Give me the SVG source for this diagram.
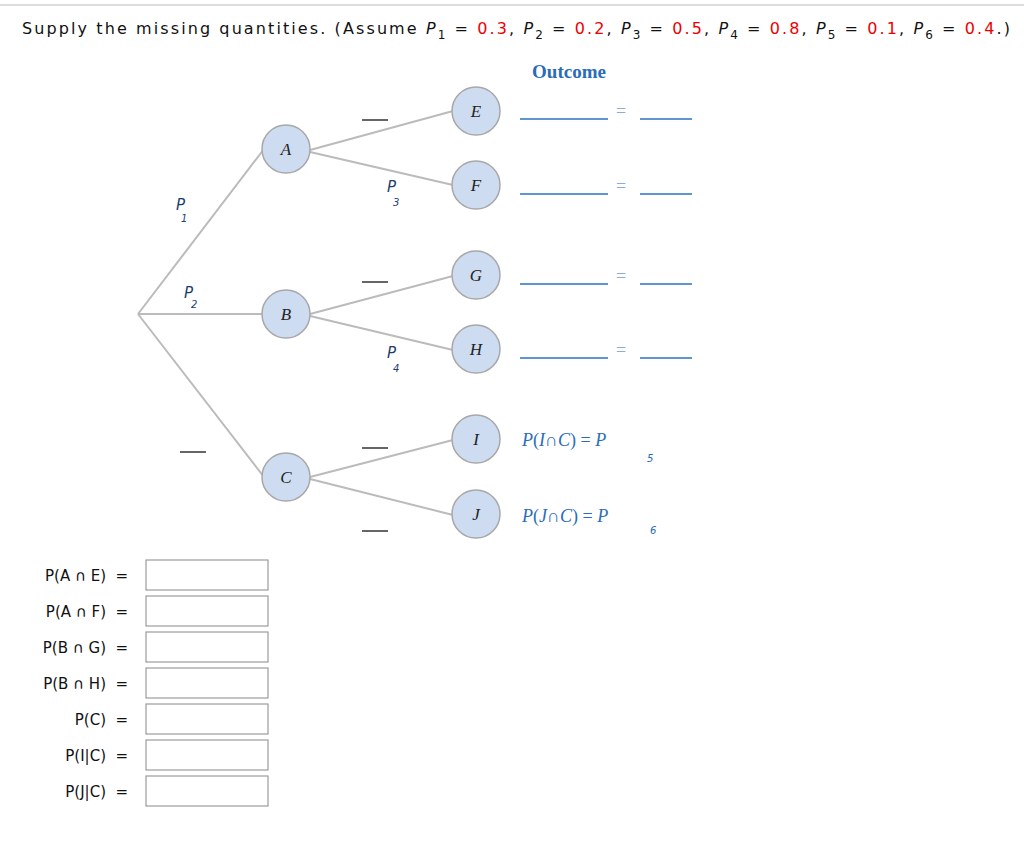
<svg xmlns="http://www.w3.org/2000/svg" width="1024" height="851" viewBox="0 0 1024 851">
<style>
.n{fill:#cddcf0;stroke:#a8a8a8;stroke-width:1.5}
.nl{font-family:"Liberation Serif",serif;font-style:italic;font-size:17px;text-anchor:middle;fill:#222}
.e{stroke:#bbbbbb;stroke-width:2;fill:none}
.p{font-family:"DejaVu Sans",sans-serif;font-style:italic;font-size:15px;fill:#1d3d6e}
.ps{font-family:"DejaVu Sans",sans-serif;font-style:italic;font-size:10px;fill:#1d3d6e}
.d{stroke:#333;stroke-width:1.5}
.bl{stroke:#2a72c0;stroke-width:1.5}
.o{font-family:"Liberation Serif",serif;font-size:18px;fill:#2a6cb8}
.t{font-family:"DejaVu Sans",sans-serif;font-size:16px;fill:#111}
.r{fill:#e00}
.bx{fill:#fff;stroke:#888;stroke-width:1}
.lb{font-family:"DejaVu Sans",sans-serif;font-size:15px;fill:#111;text-anchor:end}
</style>
<rect width="1024" height="851" fill="#fff"/>
<line x1="0" y1="5" x2="1024" y2="5" stroke="#ddd" stroke-width="2"/>
<text class="t" x="22" y="34" textLength="988">Supply the missing quantities. (Assume <tspan font-style="italic">P</tspan><tspan font-size="12" dy="5">1</tspan><tspan dy="-5"> = </tspan><tspan class="r">0.3</tspan>, <tspan font-style="italic">P</tspan><tspan font-size="12" dy="5">2</tspan><tspan dy="-5"> = </tspan><tspan class="r">0.2</tspan>, <tspan font-style="italic">P</tspan><tspan font-size="12" dy="5">3</tspan><tspan dy="-5"> = </tspan><tspan class="r">0.5</tspan>, <tspan font-style="italic">P</tspan><tspan font-size="12" dy="5">4</tspan><tspan dy="-5"> = </tspan><tspan class="r">0.8</tspan>, <tspan font-style="italic">P</tspan><tspan font-size="12" dy="5">5</tspan><tspan dy="-5"> = </tspan><tspan class="r">0.1</tspan>, <tspan font-style="italic">P</tspan><tspan font-size="12" dy="5">6</tspan><tspan dy="-5"> = </tspan><tspan class="r">0.4</tspan>.)</text>
<text x="569" y="78" text-anchor="middle" font-family="Liberation Serif,serif" font-weight="bold" font-size="19" fill="#2a6cb8">Outcome</text>
<g id="connectors">
<line class="e" x1="138" y1="314" x2="264" y2="149"/>
<line class="e" x1="138" y1="314" x2="264" y2="314"/>
<line class="e" x1="138" y1="314" x2="264" y2="477"/>
<line class="e" x1="310" y1="150" x2="453" y2="111"/>
<line class="e" x1="310" y1="152" x2="453" y2="185"/>
<line class="e" x1="310" y1="314" x2="453" y2="276"/>
<line class="e" x1="310" y1="316" x2="453" y2="350"/>
<line class="e" x1="310" y1="477" x2="453" y2="440"/>
<line class="e" x1="310" y1="479" x2="453" y2="515"/>
</g>
<g id="A"><circle class="n" cx="286" cy="149" r="24"/><text class="nl" x="286" y="155">A</text></g>
<g id="B"><circle class="n" cx="286" cy="314" r="24"/><text class="nl" x="286" y="320">B</text></g>
<g id="C"><circle class="n" cx="286" cy="477" r="24"/><text class="nl" x="286" y="483">C</text></g>
<g id="E"><circle class="n" cx="476" cy="111" r="24"/><text class="nl" x="476" y="117">E</text></g>
<g id="F"><circle class="n" cx="476" cy="185" r="24"/><text class="nl" x="476" y="191">F</text></g>
<g id="G"><circle class="n" cx="476" cy="275" r="24"/><text class="nl" x="476" y="281">G</text></g>
<g id="H"><circle class="n" cx="476" cy="349" r="24"/><text class="nl" x="476" y="355">H</text></g>
<g id="I"><circle class="n" cx="476" cy="439" r="24"/><text class="nl" x="476" y="445">I</text></g>
<g id="J"><circle class="n" cx="476" cy="514" r="24"/><text class="nl" x="476" y="520">J</text></g>
<g id="labels">
<text class="p" x="176" y="210">P</text><text class="ps" x="181" y="222">1</text>
<text class="p" x="184" y="298">P</text><text class="ps" x="191" y="308">2</text>
<text class="p" x="387" y="192">P</text><text class="ps" x="371" y="0"/><text class="ps" x="393" y="206">3</text>
<text class="p" x="387" y="358">P</text><text class="ps" x="393" y="372">4</text>
<line class="d" x1="362" y1="120" x2="388" y2="120"/>
<line class="d" x1="362" y1="282" x2="388" y2="282"/>
<line class="d" x1="180" y1="452" x2="206" y2="452"/>
<line class="d" x1="362" y1="448" x2="388" y2="448"/>
<line class="d" x1="362" y1="531" x2="388" y2="531"/>
</g>
<g id="outcomes">
<line class="bl" x1="520" y1="119" x2="608" y2="119"/><text class="o" x="616" y="117" fill="#9ab" style="fill:#8aaed6">=</text><line class="bl" x1="640" y1="119" x2="692" y2="119"/>
<line class="bl" x1="520" y1="194" x2="608" y2="194"/><text class="o" x="616" y="192" style="fill:#8aaed6">=</text><line class="bl" x1="640" y1="194" x2="692" y2="194"/>
<line class="bl" x1="520" y1="284" x2="608" y2="284"/><text class="o" x="616" y="282" style="fill:#8aaed6">=</text><line class="bl" x1="640" y1="284" x2="692" y2="284"/>
<line class="bl" x1="520" y1="358" x2="608" y2="358"/><text class="o" x="616" y="356" style="fill:#8aaed6">=</text><line class="bl" x1="640" y1="358" x2="692" y2="358"/>
<text class="o" x="522" y="446"><tspan font-style="italic">P</tspan>(<tspan font-style="italic">I</tspan>∩<tspan font-style="italic">C</tspan>)  = <tspan font-style="italic">P</tspan></text><text class="ps" x="647" y="462" style="fill:#2a6cb8">5</text>
<text class="o" x="522" y="522"><tspan font-style="italic">P</tspan>(<tspan font-style="italic">J</tspan>∩<tspan font-style="italic">C</tspan>) = <tspan font-style="italic">P</tspan></text><text class="ps" x="650" y="534" style="fill:#2a6cb8">6</text>
</g>
<g id="answers">
<text class="lb" x="106" y="581">P(A ∩ E)</text><text class="lb" x="128" y="581">=</text><rect class="bx" x="146" y="560" width="122" height="30"/>
<text class="lb" x="106" y="617">P(A ∩ F)</text><text class="lb" x="128" y="617">=</text><rect class="bx" x="146" y="596" width="122" height="30"/>
<text class="lb" x="106" y="653">P(B ∩ G)</text><text class="lb" x="128" y="653">=</text><rect class="bx" x="146" y="632" width="122" height="30"/>
<text class="lb" x="106" y="689">P(B ∩ H)</text><text class="lb" x="128" y="689">=</text><rect class="bx" x="146" y="668" width="122" height="30"/>
<text class="lb" x="106" y="725">P(C)</text><text class="lb" x="128" y="725">=</text><rect class="bx" x="146" y="704" width="122" height="30"/>
<text class="lb" x="106" y="761">P(I|C)</text><text class="lb" x="128" y="761">=</text><rect class="bx" x="146" y="740" width="122" height="30"/>
<text class="lb" x="106" y="797">P(J|C)</text><text class="lb" x="128" y="797">=</text><rect class="bx" x="146" y="776" width="122" height="30"/>
</g>
</svg>
